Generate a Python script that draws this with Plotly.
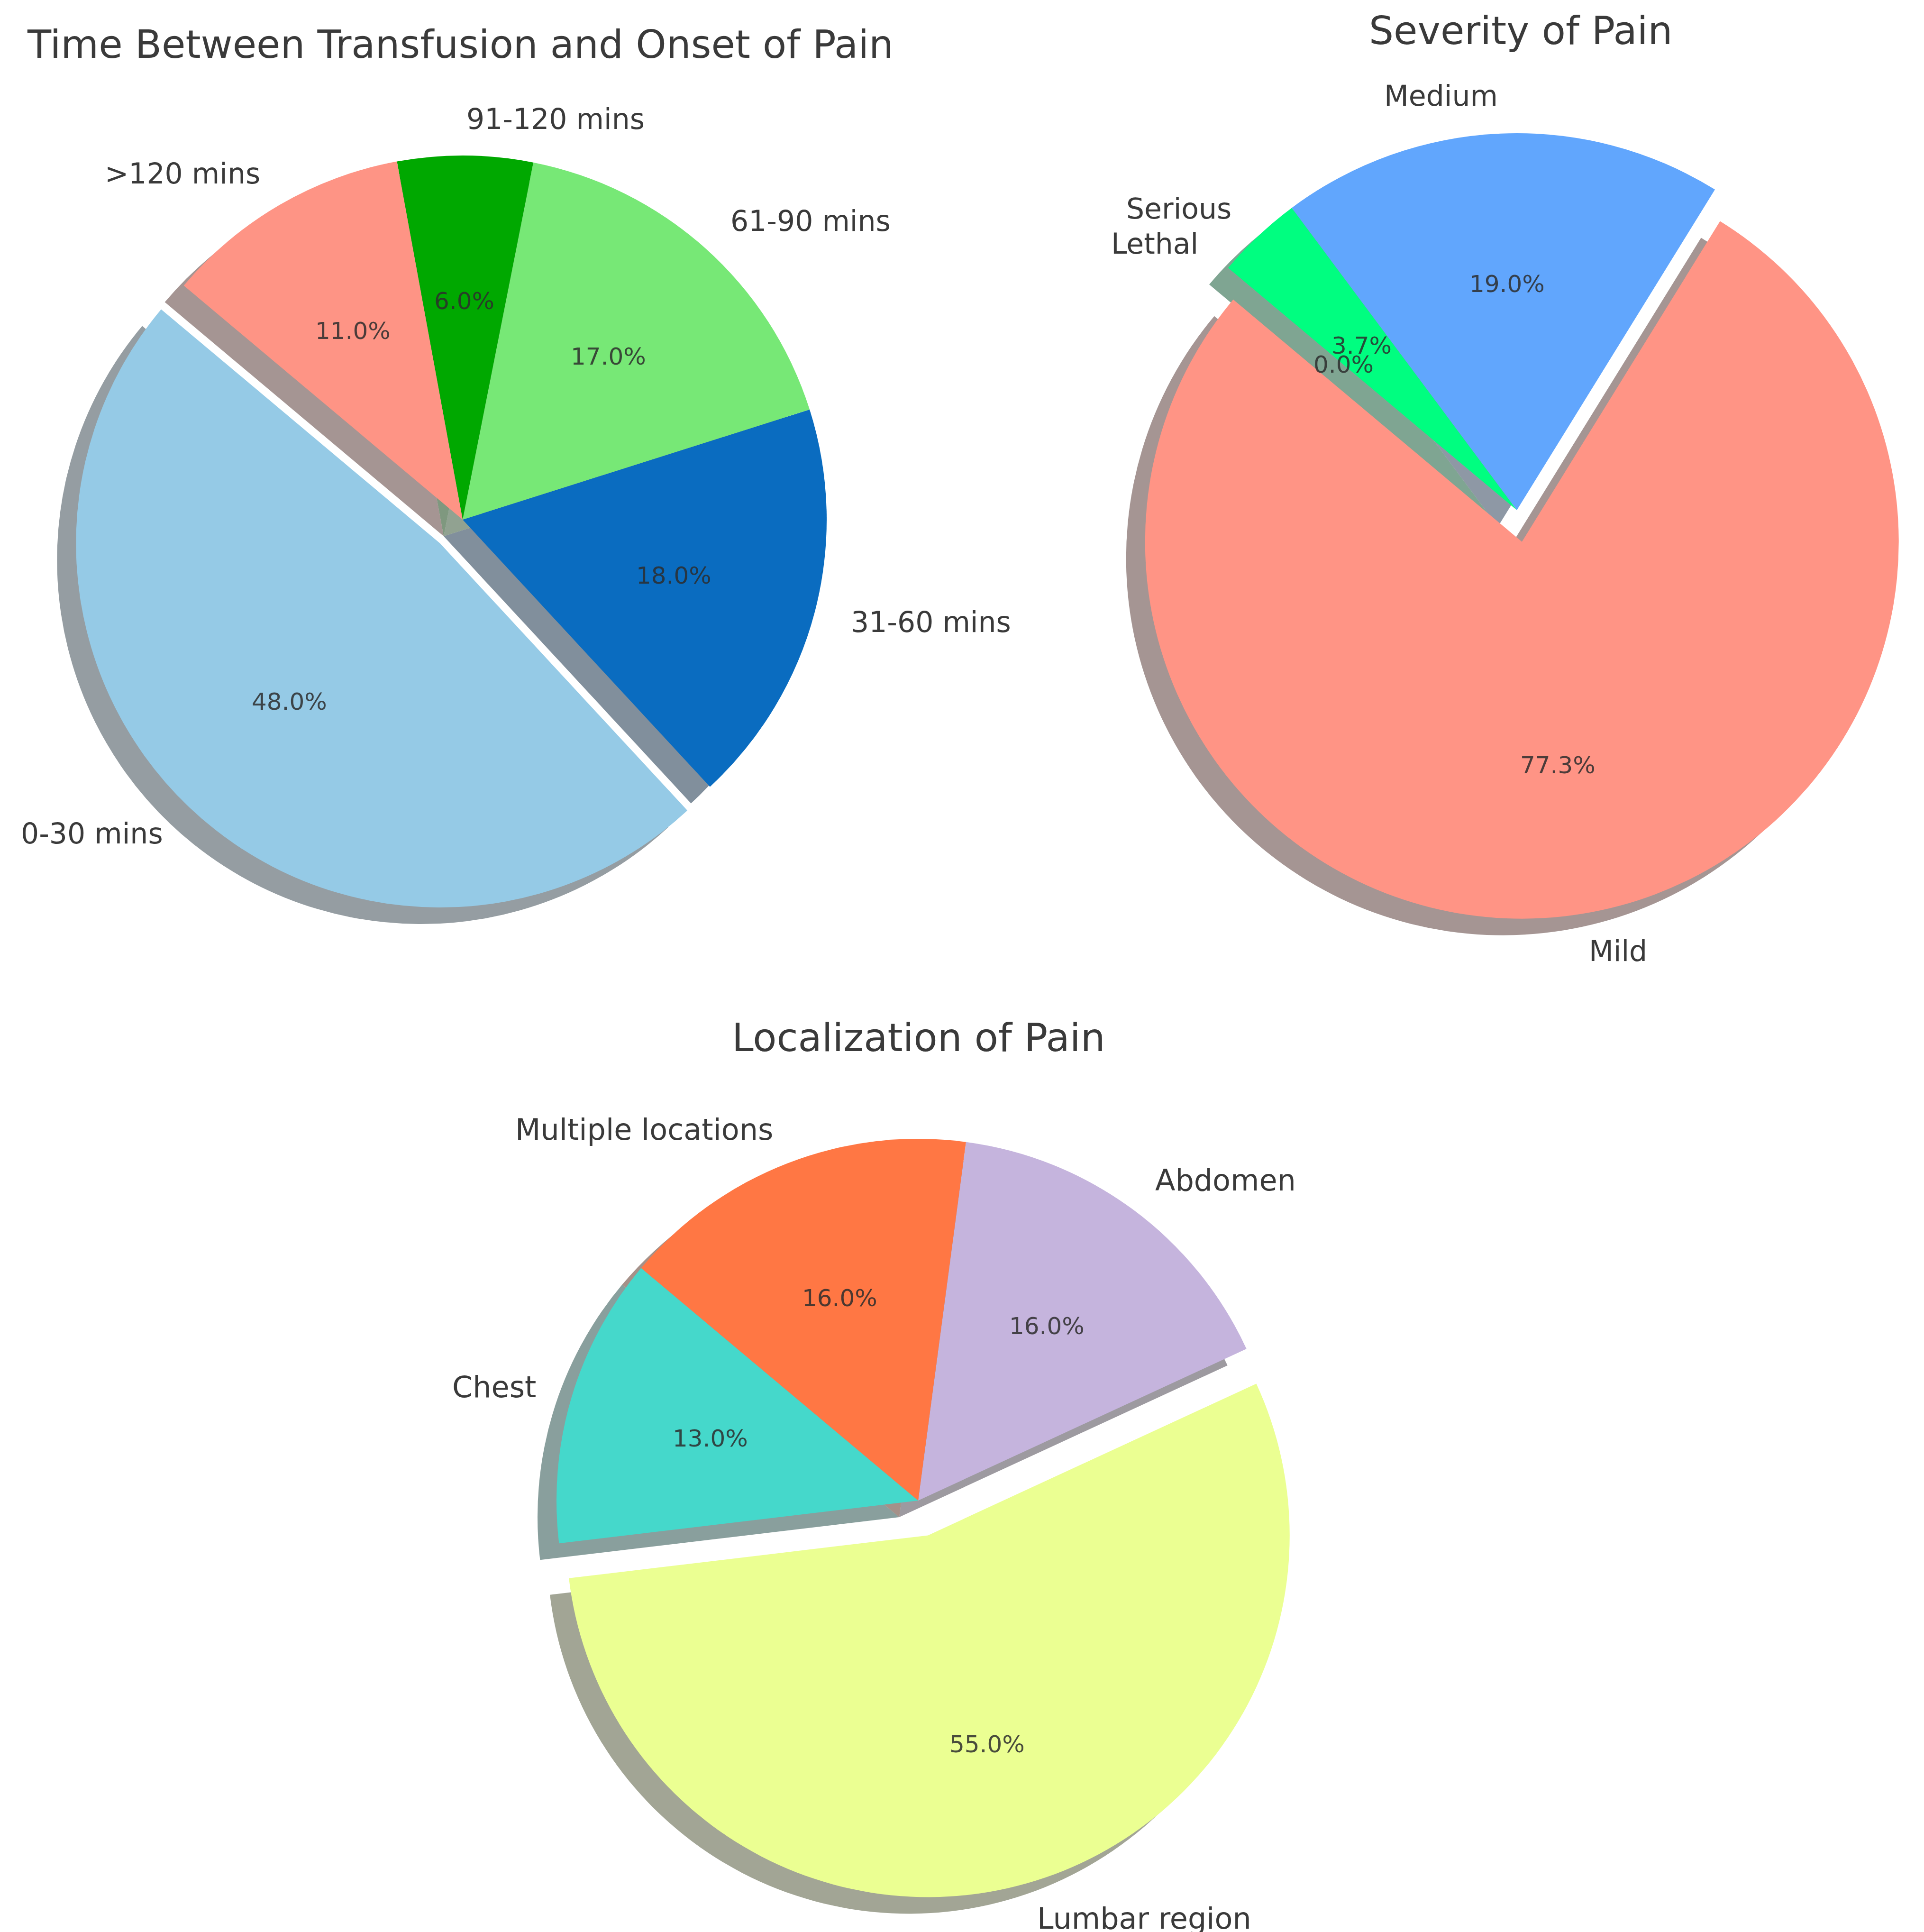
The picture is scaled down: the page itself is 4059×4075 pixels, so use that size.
import math
import plotly.graph_objects as go

# Time between transfusion and onset of pain
time_labels = ["0-30 mins", "31-60 mins", "61-90 mins", "91-120 mins", ">120 mins"]
time_values = [48.0, 18.0, 17.0, 6.0, 11.0]
time_colors = ["#95cae6", "#0a6cc0", "#77e876", "#00a800", "#fe9485"]
time_pull = [0.09, 0, 0, 0, 0]

# Severity of pain
severity_labels = ["Mild", "Medium", "Serious", "Lethal"]
severity_values = [77.3, 19.0, 3.7, 0.0]
severity_colors = ["#ff9485", "#61a6fd", "#00fe80", "#8fa690"]
severity_pull = [0.085, 0, 0, 0]

# Localization of pain
location_labels = ["Chest", "Lumbar region", "Abdomen", "Multiple locations"]
location_values = [13.0, 55.0, 16.0, 16.0]
location_colors = ["#45d8cb", "#ebff92", "#c5b4dd", "#ff7744"]
location_pull = [0, 0.1, 0, 0]

W, H = 4059, 4075
START_ANGLE = 140
FONT = "DejaVu Sans"
TEXT = "#3a3a3a"
PCT_TEXT = "rgba(45,45,45,0.85)"


def shadow(c):
    c = c.lstrip("#")
    r, g, b = (int(c[i:i + 2], 16) for i in (0, 2, 4))
    return f"rgba({int(r * 0.3)},{int(g * 0.3)},{int(b * 0.3)},0.5)"


def add_pie(fig, k, labels, values, colors, pull, cx, cy, r, label_size=60):
    half = r * (1 + max(pull))
    dom_x = [(cx - half) / W, (cx + half) / W]
    dom_y = [(H - cy - half) / H, (H - cy + half) / H]
    total = sum(values)
    # matplotlib-like start angle, counterclockwise
    rot = 90 - START_ANGLE - 360 * values[0] / total
    common = dict(labels=labels, values=values, pull=pull, sort=False,
                  direction="counterclockwise", rotation=rot, hoverinfo="skip",
                  textinfo="none")

    sx, sy = -40 / W, -35 / H
    fig.add_trace(go.Pie(
        **common,
        domain=dict(x=[dom_x[0] + sx, dom_x[1] + sx], y=[dom_y[0] + sy, dom_y[1] + sy]),
        marker=dict(colors=[shadow(c) for c in colors], line=dict(width=0)),
    ))
    fig.add_trace(go.Pie(
        **common,
        domain=dict(x=dom_x, y=dom_y),
        marker=dict(colors=colors, line=dict(width=0)),
    ))

    # hidden full-page axes in pie-radius units, centred on the pie
    xa, ya = f"x{k}", f"y{k}"
    fig.update_layout({
        f"xaxis{k}": dict(domain=[0, 1], range=[-cx / r, (W - cx) / r],
                          visible=False, fixedrange=True),
        f"yaxis{k}": dict(domain=[0, 1], range=[-(H - cy) / r, cy / r],
                          visible=False, fixedrange=True),
    })

    px, py = [], []
    theta = START_ANGLE
    for lab, v, p in zip(labels, values, pull):
        span = 360 * v / total
        mid = math.radians(theta + span / 2)
        theta += span
        ox, oy = p * math.cos(mid), p * math.sin(mid)
        px.append(ox + 0.6 * math.cos(mid))
        py.append(oy + 0.6 * math.sin(mid))
        lx, ly = ox + 1.1 * math.cos(mid), oy + 1.1 * math.sin(mid)
        fig.add_annotation(text=lab, x=lx, y=ly, xref=xa, yref=ya, showarrow=False,
                           xanchor="left" if lx > 0 else "right", yanchor="middle",
                           font=dict(family=FONT, size=label_size, color=TEXT))
        fig.add_annotation(text=f"{100 * v / total:.1f}%", x=px[-1], y=py[-1],
                           xref=xa, yref=ya, showarrow=False,
                           xanchor="center", yanchor="middle",
                           font=dict(family=FONT, size=50, color=PCT_TEXT))
    fig.add_trace(go.Scatter(x=px, y=py, xaxis=xa, yaxis=ya, mode="markers",
                             marker=dict(opacity=0), hoverinfo="skip"))


fig = go.Figure()
add_pie(fig, "", time_labels, time_values, time_colors, time_pull, 968, 1088, 768)
add_pie(fig, "2", severity_labels, severity_values, severity_colors, severity_pull,
        3192, 1068, 795)
add_pie(fig, "3", location_labels, location_values, location_colors, location_pull,
        1929, 3157, 763, label_size=62)

titles = [
    ("Time Between Transfusion and Onset of Pain", 963, 86),
    ("Severity of Pain", 3200, 57),
    ("Localization of Pain", 1930, 2180),
]
for text, x, y in titles:
    fig.add_annotation(text=text, x=x / W, y=1 - y / H, xref="paper", yref="paper",
                       showarrow=False, xanchor="center", yanchor="middle",
                       font=dict(family=FONT, size=82, color=TEXT))

fig.update_layout(
    width=W, height=H,
    margin=dict(l=0, r=0, t=0, b=0),
    paper_bgcolor="white",
    plot_bgcolor="white",
    showlegend=False,
)

fig.write_html("out.html")
